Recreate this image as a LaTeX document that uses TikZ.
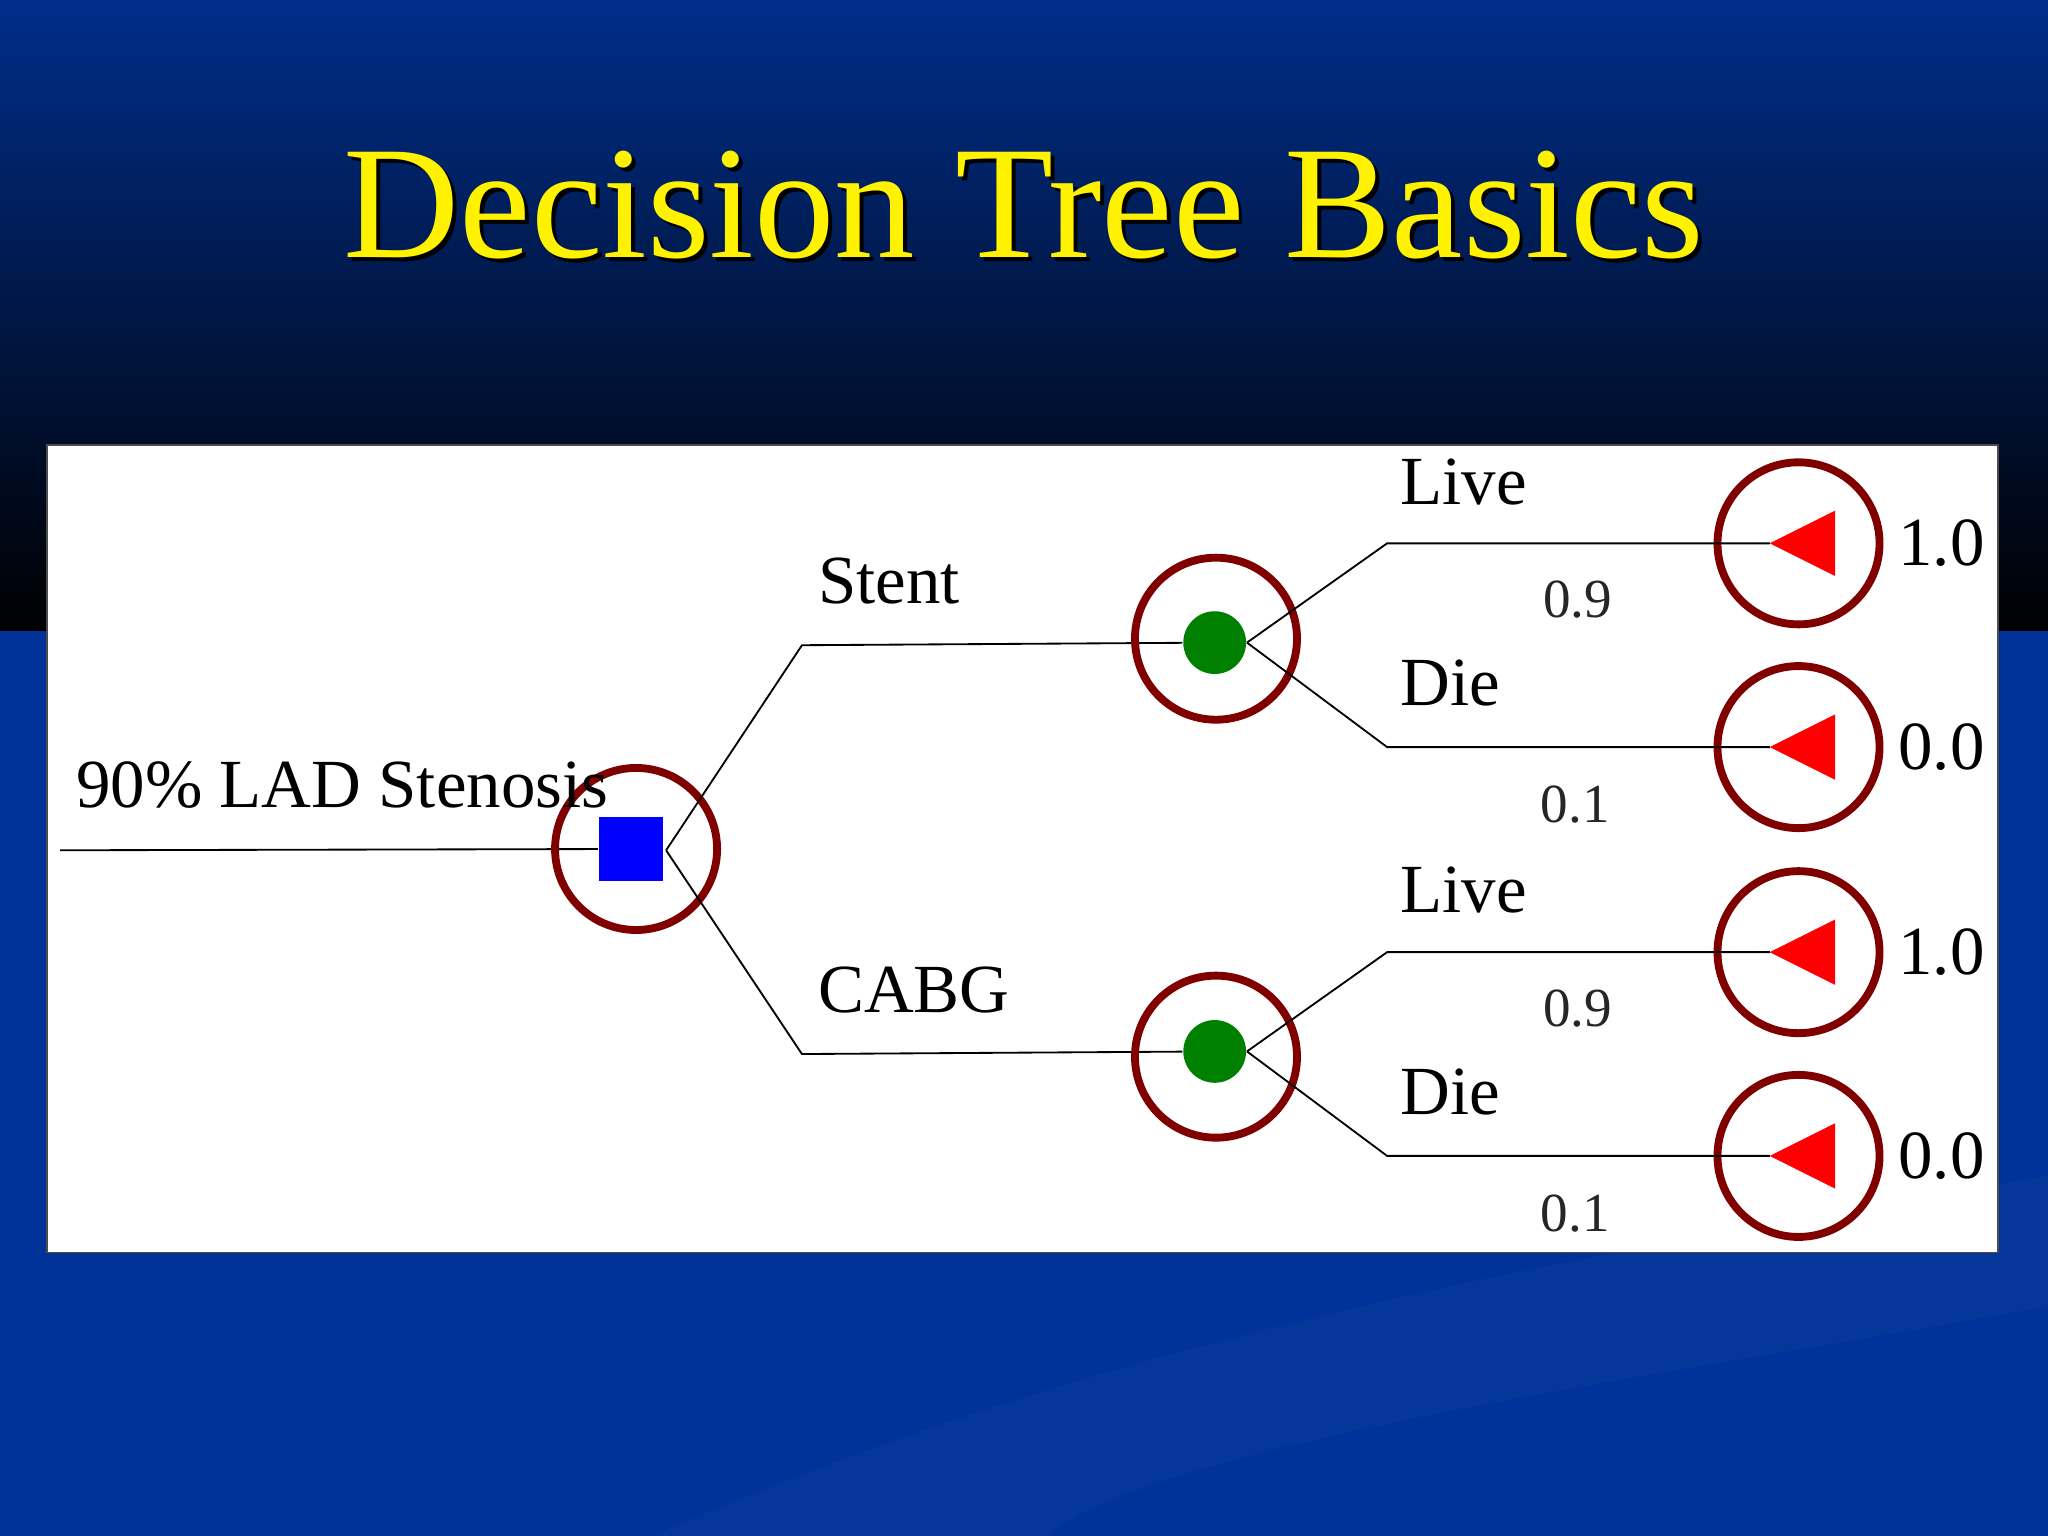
\documentclass[tikz,border=0pt]{standalone}
\usepackage{fontspec}
\setmainfont{Liberation Serif}
\begin{document}
\begin{tikzpicture}[x=0.01cm,y=-0.01cm,
  ring/.style={circle,draw={rgb,255:red,128;green,0;blue,0},line width=0.06cm,minimum size=1.24cm,inner sep=0},
  lbl/.style={font=\fontsize{15}{15}\selectfont,text=black},
  prob/.style={font=\fontsize{12}{12}\selectfont,text=black!85},
  val/.style={font=\fontsize{15}{15}\selectfont,text=black},
  br/.style={draw=black,line width=0.4pt},
  chance/.style={circle,fill={rgb,255:red,0;green,128;blue,0},minimum size=0.48cm,inner sep=0},
  term/.style={fill=red,draw=none}]
\definecolor{bgblue}{RGB}{0,51,153}
\useasboundingbox (0,0) rectangle (1568,1176);
\shade[top color=bgblue!90!black, bottom color=black] (0,0) rectangle (1568,483);
\fill[bgblue] (0,483) rectangle (1568,1176);
\fill[bgblue!85!white,opacity=0.15] (500,1176) .. controls (900,1000) and (1300,950) .. (1568,900) -- (1568,1000) .. controls (1300,1050) and (900,1100) .. (800,1176) -- cycle;
\node[font=\fontsize{35}{35}\selectfont,text=black] at (787,160) {Decision Tree Basics};
\node (title) [font=\fontsize{35}{35}\selectfont,text=yellow] at (784,157) {Decision Tree Basics};
\draw[fill=white,draw=black!70] (36,341) rectangle (1530,959);
% root
\coordinate (start) at (46,651);
\node (dec) [fill=blue,minimum size=0.49cm,inner sep=0] at (483,650) {};
\draw[br] (start) -- (dec);
\node (r0) [ring] at (487,650) {};
\node[lbl,anchor=base west] at (46,618) {90\% LAD Stenosis};
% chance nodes
\node (c1) [chance] at (930,492) {};
\node (c2) [chance] at (930,805) {};
\draw[br] (510,651) -- (614,494) -- (c1);
\draw[br] (510,651) -- (614,807) -- (c2);
\node[lbl,anchor=base west] at (614,462) {Stent};
\node[lbl,anchor=base west] at (614,775) {CABG};
\node (rc1) [ring] at (931,489) {};
\node (rc2) [ring] at (931,809) {};
% terminals
\foreach \n/\y/\v in {t1/416/1.0,t2/572/0.0,t3/729/1.0,t4/885/0.0}{
  \fill[term] (1355,\y) -- (1405,\y-25) -- (1405,\y+25) -- cycle;
  \coordinate (\n) at (1355,\y);
  \node[ring] at (1377,\y) {};
  \node[val,anchor=west] at (1441,\y) {\v};
}
\foreach \c/\a/\b/\ya/\yb in {c1/t1/t2/416/572,c2/t3/t4/729/885}{
  \draw[br] (\c.east) -- (1062,\ya) -- (\a);
  \draw[br] (\c.east) -- (1062,\yb) -- (\b);
  \node[lbl,anchor=base west] at (1060,\ya-30) {Live};
  \node[lbl,anchor=base west] at (1060,\yb-32) {Die};
  \node[prob] at (1208,\ya+43) {0.9};
  \node[prob] at (1206,\yb+44) {0.1};
}
\end{tikzpicture}
\end{document}
